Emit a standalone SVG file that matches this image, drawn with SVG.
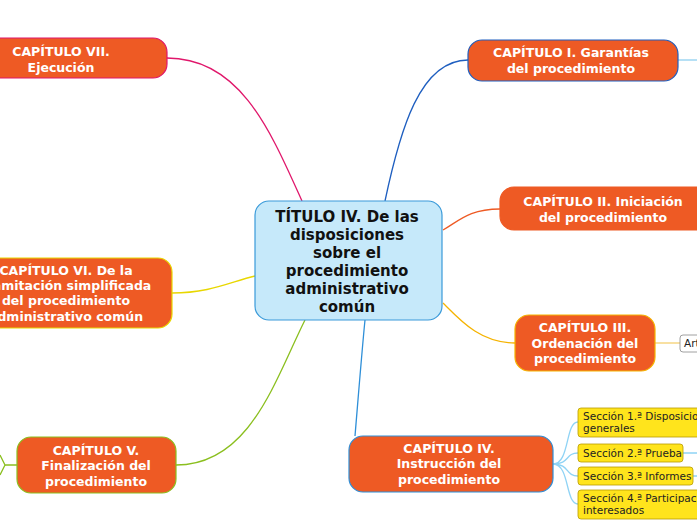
<svg xmlns="http://www.w3.org/2000/svg" width="697" height="520" viewBox="0 0 697 520">
<style>
.n{fill:#ee5a24;stroke-width:1.2}
.t{font-family:"DejaVu Sans",sans-serif;font-weight:bold;font-size:12.5px;fill:#fff;text-anchor:middle}
.c{font-family:"DejaVu Sans",sans-serif;font-weight:bold;font-size:15px;fill:#111;text-anchor:middle}
.s{fill:#ffe41c;stroke:#b89a00;stroke-width:0.8}
.st{font-family:"DejaVu Sans",sans-serif;font-size:10.5px;fill:#222}
.l{fill:none;stroke-width:1.3}
</style>
<rect width="697" height="520" fill="#fff"/>
<g id="connectors">
<path class="l" stroke="#e0176b" d="M167,58 C240,58 270,130 302,201"/>
<path class="l" stroke="#1f5fc0" d="M468,60 C420,60 400,130 385,201"/>
<path class="l" stroke="#ee5a24" d="M500,209 C470,209 460,220 443,230"/>
<path class="l" stroke="#f5b300" d="M515,343 C480,343 460,320 443,303"/>
<path class="l" stroke="#e8d700" d="M172,293 C210,293 230,282 255,276"/>
<path class="l" stroke="#8bbf1f" d="M176,465 C250,465 275,380 305,320"/>
<path class="l" stroke="#2e8fd8" d="M355,436 C358,400 362,350 365,320"/>
<path class="l" stroke="#8fcff0" d="M678,60 H697"/>
<path class="l" stroke="#f5d070" d="M655,343 H680"/>
<path class="l" stroke="#8bbf1f" d="M17,465 H5 M5,465 L0,455 M5,465 L0,475"/>
<path class="l" stroke="#8fd3f5" d="M553,464 C570,464 565,422 578,422 M553,464 C570,464 565,453 578,453 M553,464 C570,464 565,476 578,476 M553,464 C570,464 565,504 578,504"/>
<path class="l" stroke="#8fd3f5" d="M683,453 H697 M693,476 H697"/>
</g>
<g id="center"><rect x="255" y="201" width="187" height="119" rx="14" fill="#c6e9fa" stroke="#3a9ad9" stroke-width="1.2"/>
<text class="c"><tspan x="347" y="222">TÍTULO IV. De las</tspan><tspan x="347" y="240">disposiciones</tspan><tspan x="347" y="258">sobre el</tspan><tspan x="347" y="276">procedimiento</tspan><tspan x="347" y="294">administrativo</tspan><tspan x="347" y="312">común</tspan></text></g>
<g id="cap7"><rect class="n" x="-20" y="38" width="187" height="40" rx="14" stroke="#e0176b"/><text class="t"><tspan x="61" y="56">CAPÍTULO VII.</tspan><tspan x="61" y="72">Ejecución</tspan></text></g>
<g id="cap1"><rect class="n" x="468" y="40" width="210" height="41" rx="14" stroke="#1f5fc0"/><text class="t"><tspan x="571" y="57">CAPÍTULO I. Garantías</tspan><tspan x="571" y="73">del procedimiento</tspan></text></g>
<g id="cap2"><rect class="n" x="500" y="187" width="215" height="43" rx="14" stroke="#ee5a24"/><text class="t"><tspan x="603" y="206">CAPÍTULO II. Iniciación</tspan><tspan x="603" y="222">del procedimiento</tspan></text></g>
<g id="cap3"><rect class="n" x="515" y="315" width="140" height="56" rx="14" stroke="#f5b300"/><text class="t"><tspan x="585" y="332">CAPÍTULO III.</tspan><tspan x="585" y="348">Ordenación del</tspan><tspan x="585" y="363">procedimiento</tspan></text></g>
<g id="art"><rect x="680" y="335" width="30" height="17" rx="3" fill="#fff" stroke="#888" stroke-width="0.8"/><text class="st" x="684" y="347" font-size="9.5">Art</text></g>
<g id="cap6"><rect class="n" x="-20" y="258" width="192" height="70" rx="14" stroke="#e8d700"/><text class="t"><tspan x="66" y="275">CAPÍTULO VI. De la</tspan><tspan x="66" y="290">tramitación simplificada</tspan><tspan x="66" y="305">del procedimiento</tspan><tspan x="66" y="321">administrativo común</tspan></text></g>
<g id="cap5"><rect class="n" x="17" y="437" width="159" height="56" rx="14" stroke="#8bbf1f"/><text class="t"><tspan x="96" y="455">CAPÍTULO V.</tspan><tspan x="96" y="470">Finalización del</tspan><tspan x="96" y="486">procedimiento</tspan></text></g>
<g id="cap4"><rect class="n" x="349" y="436" width="204" height="56" rx="14" stroke="#2e8fd8"/><text class="t"><tspan x="449" y="453">CAPÍTULO IV.</tspan><tspan x="449" y="468">Instrucción del</tspan><tspan x="449" y="484">procedimiento</tspan></text></g>
<g id="s1"><rect class="s" x="578" y="408" width="130" height="29" rx="3"/><text class="st"><tspan x="583" y="420">Sección 1.ª Disposiciones</tspan><tspan x="583" y="432">generales</tspan></text></g>
<g id="s2"><rect class="s" x="578" y="444" width="105" height="18" rx="3"/><text class="st" x="583" y="457">Sección 2.ª Prueba</text></g>
<g id="s3"><rect class="s" x="578" y="467" width="115" height="18" rx="3"/><text class="st" x="583" y="480">Sección 3.ª Informes</text></g>
<g id="s4"><rect class="s" x="578" y="490" width="130" height="29" rx="3"/><text class="st"><tspan x="583" y="502">Sección 4.ª Participación de los</tspan><tspan x="583" y="514">interesados</tspan></text></g>
</svg>
